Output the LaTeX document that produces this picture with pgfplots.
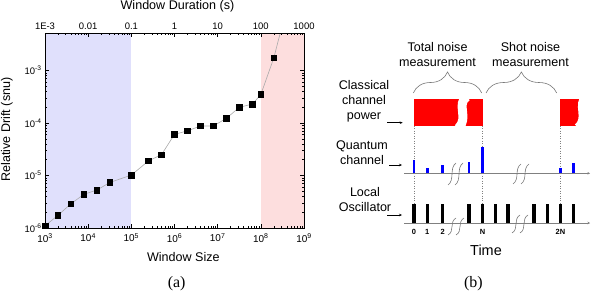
\documentclass[border=0pt]{standalone}
\usepackage{fontspec}
\setmainfont{Liberation Sans}
\newfontfamily\seriffont{Liberation Serif}
\usepackage{pgfplots}
\pgfplotsset{compat=1.18}
\usetikzlibrary{arrows.meta,decorations.pathreplacing}
\definecolor{bluefill}{RGB}{224,224,252}
\definecolor{redfill}{RGB}{253,222,222}
\definecolor{linegray}{RGB}{170,170,170}
\definecolor{brk}{RGB}{120,120,120}
\begin{document}
\begin{tikzpicture}[x=1bp,y=1bp]
\path[use as bounding box] (0,0) rectangle (599,-293);
% ---------------- panel (a) ----------------
\begin{axis}[
  at={(45bp,-228bp)}, anchor=south west,
  scale only axis, width=259bp, height=195bp,
  xmode=log, ymode=log,
  xmin=1e3, xmax=1e9, ymin=1e-6, ymax=5.2e-3,
  xtick={1e3,1e4,1e5,1e6,1e7,1e8,1e9},
  xticklabels={10\textsuperscript{3},10\textsuperscript{4},10\textsuperscript{5},10\textsuperscript{6},10\textsuperscript{7},10\textsuperscript{8},10\textsuperscript{9}},
  ytick={1e-6,1e-5,1e-4,1e-3},
  yticklabels={10\textsuperscript{-6},10\textsuperscript{-5},10\textsuperscript{-4},10\textsuperscript{-3}},
  xtick pos=bottom, ytick pos=both,
  tick align=inside,
  major tick length=4bp, minor tick length=2bp,
  tick label style={font=\fontsize{9.5}{10}\selectfont},
  xticklabel style={yshift=-2bp, font=\fontsize{10}{11}\selectfont},
  axis on top, clip mode=individual,
  axis line style={line width=0.6bp},
  every tick/.style={black, line width=0.5bp},
]
\addplot[fill=bluefill, draw=none] coordinates {(1e3,1e-6)(1e5,1e-6)(1e5,5.2e-3)(1e3,5.2e-3)} -- cycle;
\addplot[fill=redfill, draw=none] coordinates {(1e8,1e-6)(1e9,1e-6)(1e9,5.2e-3)(1e8,5.2e-3)} -- cycle;
\addplot[linegray, line width=0.6bp] coordinates {(2e8,1.75e-3)(4e8,1.6e-2)};
\addplot[linegray, line width=0.6bp, mark=square*, mark size=2.8bp,
  mark options={fill=black, draw=black}] coordinates {
(1e3,1.1e-6)(2e3,1.75e-6)(4e3,2.9e-6)(8e3,4.4e-6)(1.6e4,5.3e-6)(3.2e4,7.4e-6)
(1e5,1.02e-5)(2.5e5,1.9e-5)(5e5,2.5e-5)(1e6,6.1e-5)(2e6,7.1e-5)(4e6,8.8e-5)
(8e6,8.8e-5)(1.6e7,1.24e-4)(3.2e7,2.0e-4)(6.4e7,2.3e-4)(1e8,3.5e-4)(2e8,1.75e-3)};
\end{axis}
\begin{axis}[
  at={(45bp,-228bp)}, anchor=south west,
  scale only axis, width=259bp, height=195bp,
  xmode=log, xmin=1e-3, xmax=1e3, ymin=0, ymax=1,
  hide y axis,
  xtick={1e-3,1e-2,1e-1,1,10,100,1000},
  xticklabels={1E-3,0.01,0.1,1,10,100,1000},
  xtick pos=top, xticklabel pos=top,
  tick align=inside,
  major tick length=4bp, minor tick length=2bp,
  tick label style={font=\fontsize{9.5}{10}\selectfont},
  axis line style={line width=0.6bp},
  every tick/.style={black, line width=0.5bp},
]
\addplot[draw=none] coordinates {(1,0.5)};
\end{axis}
\node[font=\fontsize{12.6}{15}\selectfont] at (177.5,-6.5) {Window Duration (s)};
\node[font=\fontsize{12.6}{15}\selectfont] at (183.3,-257.5) {Window Size};
\node[font=\fontsize{12.6}{15}\selectfont, rotate=90] at (7,-129.5) {Relative Drift (snu)};
\node[font=\seriffont\fontsize{16}{18}\selectfont] at (176.7,-283.3) {(a)};
% ---------------- panel (b) ----------------
\begin{axis}[
  at={(300bp,-293bp)}, anchor=south west,
  scale only axis, width=299bp, height=293bp,
  xmin=300, xmax=599, ymin=0, ymax=293, y dir=reverse,
  hide axis, clip=false,
]
% classical channel blocks
\addplot[fill=red, draw=none] coordinates {(413.8,99)(483,99)(483,125.7)(413.8,125.7)} -- cycle;
\addplot[fill=red, draw=none] coordinates {(559.8,99)(584,99)(584,125.7)(559.8,125.7)} -- cycle;
\draw[white, line width=9bp] (466.5,97) .. controls (456,104) and (469,118) .. (458.5,128);
\draw[white, line width=10bp] (587,97) .. controls (577,104) and (590,118) .. (578.5,128);
% dotted guides
\draw[gray, dotted, line width=0.5bp] (414,125.7) -- (414,223);
\draw[gray, dotted, line width=0.5bp] (482.6,125.7) -- (482.6,223);
\draw[gray, dotted, line width=0.5bp] (560,125.7) -- (560,223);
% baselines
\draw[gray, line width=0.5bp, -{Stealth[length=2.5bp,width=2.5bp]}] (404,173.3) -- (590,173.3);
\draw[gray, line width=0.5bp, -{Stealth[length=2.5bp,width=2.5bp]}] (404,223) -- (590,223);
% quantum channel pulses
\addplot[blue, line width=2.8bp, unbounded coords=jump] coordinates {
(414,173.3)(414,160.3) (414,nan)
(427.3,173.3)(427.3,167.7) (427.3,nan)
(442.7,173.3)(442.7,165) (442.7,nan)
(469,173.3)(469,162.3) (469,nan)
(482.6,173.3)(482.6,146.7) (482.6,nan)
(560.5,173.3)(560.5,167.7) (560.5,nan)
(573.3,173.3)(573.3,163)};
% local oscillator pulses
\addplot[black, line width=3.2bp, unbounded coords=jump] coordinates {
(414,223)(414,204.3) (414,nan)
(427.3,223)(427.3,204.3) (427.3,nan)
(442.7,223)(442.7,204.3) (442.7,nan)
(469,223)(469,204.3) (469,nan)
(482.6,223)(482.6,204.3) (482.6,nan)
(495.3,223)(495.3,204.3) (495.3,nan)
(508,223)(508,204.3) (508,nan)
(534,223)(534,204.3) (534,nan)
(547.3,223)(547.3,204.3) (547.3,nan)
(560.5,223)(560.5,204.3) (560.5,nan)
(573.3,223)(573.3,204.3)};
% break marks
\draw[brk, line width=0.6bp] (448,185) .. controls (455,180) and (449,168) .. (456,163);
\draw[brk, line width=0.6bp] (455,185) .. controls (462,180) and (456,168) .. (463,163);
\draw[brk, line width=0.6bp] (513,184) .. controls (520,179) and (514,169) .. (521,164);
\draw[brk, line width=0.6bp] (521,184) .. controls (528,179) and (522,169) .. (529,164);
\draw[brk, line width=0.6bp] (448,235) .. controls (455,231) and (449,222) .. (456,218);
\draw[brk, line width=0.6bp] (456,235) .. controls (463,231) and (457,222) .. (464,218);
\draw[brk, line width=0.6bp] (512,233) .. controls (519,229) and (513,219) .. (520,215);
\draw[brk, line width=0.6bp] (520,233) .. controls (527,229) and (521,219) .. (528,215);
% braces
\draw[brk, line width=0.6bp, decorate, decoration={brace, amplitude=21bp}] (413.3,93) -- (481.7,93);
\draw[brk, line width=0.6bp, decorate, decoration={brace, amplitude=21bp}] (486,93) -- (556.7,93);
% labels
\node[font=\fontsize{12.6}{15}\selectfont, align=center] at (437.5,54.3) {Total noise\\measurement};
\node[font=\fontsize{12.6}{15}\selectfont, align=center] at (530.5,54.3) {Shot noise\\measurement};
\node[font=\fontsize{12.6}{15.5}\selectfont, align=center] at (364,101.3) {Classical\\channel\\power};
\node[font=\fontsize{12.6}{15}\selectfont, align=center] at (362,152.5) {Quantum\\channel};
\node[font=\fontsize{12.6}{15}\selectfont, align=center] at (365,199.2) {Local\\Oscillator};
\draw[black, line width=0.5bp, -{Stealth[length=3bp,width=2.5bp]}] (387,122.7) -- (402.7,122.7);
\draw[black, line width=0.5bp, -{Stealth[length=3bp,width=2.5bp]}] (389,165) -- (402,165);
\draw[black, line width=0.5bp, -{Stealth[length=3bp,width=2.5bp]}] (387.3,215) -- (402,215);
\node[font=\bfseries\fontsize{7.5}{8}\selectfont] at (414,231.5) {0};
\node[font=\bfseries\fontsize{7.5}{8}\selectfont] at (427.3,231.5) {1};
\node[font=\bfseries\fontsize{7.5}{8}\selectfont] at (442.7,231.5) {2};
\node[font=\bfseries\fontsize{7.5}{8}\selectfont] at (482.6,231.5) {N};
\node[font=\bfseries\fontsize{7.5}{8}\selectfont] at (560.5,231.5) {2N};
\node[font=\fontsize{14.5}{16}\selectfont] at (486,250) {Time};
\node[font=\seriffont\fontsize{16}{18}\selectfont] at (473.3,283.3) {(b)};
\end{axis}
\end{tikzpicture}
\end{document}
